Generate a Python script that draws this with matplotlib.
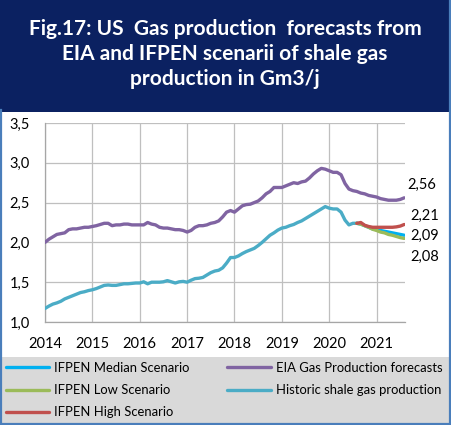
import matplotlib
matplotlib.use("Agg")
import matplotlib.pyplot as plt
from matplotlib.patches import Rectangle
from matplotlib.lines import Line2D
import numpy as np

# ---------------- data (monthly, Jan 2014 onwards) ----------------
start_year = 2014
eia = [2.00, 2.04, 2.07, 2.10, 2.11, 2.12, 2.16, 2.17, 2.17, 2.18, 2.19, 2.19,
       2.20, 2.21, 2.225, 2.24, 2.24, 2.21, 2.22, 2.22, 2.23, 2.23, 2.22, 2.22,
       2.22, 2.22, 2.25, 2.23, 2.22, 2.19, 2.18, 2.18, 2.17, 2.16, 2.16, 2.15,
       2.13, 2.15, 2.19, 2.21, 2.21, 2.22, 2.24, 2.25, 2.27, 2.32, 2.38, 2.40,
       2.38, 2.42, 2.46, 2.475, 2.48, 2.50, 2.52, 2.56, 2.61, 2.64, 2.69, 2.69,
       2.69, 2.71, 2.73, 2.75, 2.74, 2.76, 2.77, 2.81, 2.86, 2.90, 2.93, 2.92,
       2.90, 2.88, 2.88, 2.85, 2.74, 2.67, 2.65, 2.64, 2.62, 2.61, 2.59, 2.58,
       2.57, 2.55, 2.54, 2.53, 2.53, 2.53, 2.54, 2.56]
historic = [1.17, 1.20, 1.225, 1.24, 1.26, 1.29, 1.31, 1.33, 1.35, 1.37, 1.38, 1.395,
            1.405, 1.42, 1.44, 1.46, 1.465, 1.46, 1.46, 1.47, 1.48, 1.48, 1.485, 1.49,
            1.49, 1.505, 1.48, 1.50, 1.50, 1.50, 1.505, 1.52, 1.505, 1.49, 1.505, 1.51,
            1.50, 1.525, 1.545, 1.55, 1.56, 1.59, 1.62, 1.64, 1.65, 1.68, 1.74, 1.81,
            1.81, 1.83, 1.86, 1.885, 1.905, 1.925, 1.96, 2.00, 2.045, 2.09, 2.12, 2.155,
            2.18, 2.19, 2.21, 2.225, 2.25, 2.27, 2.30, 2.33, 2.36, 2.39, 2.42, 2.45,
            2.43, 2.42, 2.42, 2.38, 2.28, 2.22, 2.24, 2.24]
scen_start = 79  # month index where IFPEN scenarios begin
median = [2.24, 2.23, 2.21, 2.19, 2.17, 2.16, 2.15, 2.14, 2.13, 2.12, 2.11, 2.10, 2.09]
low    = [2.24, 2.23, 2.21, 2.19, 2.165, 2.15, 2.13, 2.12, 2.10, 2.09, 2.075, 2.06, 2.05]
high   = [2.24, 2.25, 2.215, 2.20, 2.19, 2.19, 2.19, 2.19, 2.19, 2.19, 2.195, 2.205, 2.225]
end_labels = {"eia": "2,56", "high": "2,21", "median": "2,09", "low": "2,08"}
yticks = [1.0, 1.5, 2.0, 2.5, 3.0, 3.5]
years = list(range(2014, 2022))
title = "Fig.17: US  Gas production  forecasts from\nEIA and IFPEN scenarii of shale gas\nproduction in Gm3/j"

def t_of(i0, n):
    return start_year + (np.arange(n) + i0) / 12.0

W, H = 452, 425
DPI = 100
FONT = ["Lato", "DejaVu Sans"]
plt.rcParams["font.family"] = FONT

fig = plt.figure(figsize=(W / DPI, H / DPI), dpi=DPI)
fig.patch.set_facecolor("white")

def fx(px): return px / W
def fy(py): return 1 - py / H

# title box
fig.patches.append(Rectangle((0, fy(112)), 1, 112 / H, transform=fig.transFigure,
                             facecolor="#0B2161", edgecolor="none", zorder=0))
# legend background
fig.patches.append(Rectangle((fx(2), fy(423)), fx(449) - fx(2), (423 - 357) / H,
                             transform=fig.transFigure, facecolor="#D9D9D9",
                             edgecolor="none", zorder=0))
# borders
bc = "#4A7EBB"
fig.add_artist(Line2D([fx(1), fx(1)], [fy(425), fy(110)], transform=fig.transFigure, color=bc, lw=1.6))
fig.add_artist(Line2D([fx(450.5), fx(450.5)], [fy(425), fy(0)], transform=fig.transFigure, color=bc, lw=1.6))
fig.add_artist(Line2D([0, 1], [fy(424), fy(424)], transform=fig.transFigure, color=bc, lw=1.6))

fig.text(fx(225), fy(54), title, ha="center", va="center", color="white",
         fontsize=15, fontweight="bold", linespacing=1.3)

ax = fig.add_axes([fx(45), fy(322), fx(405) - fx(45), (322 - 123) / H])
ax.set_facecolor("white")

lw = 2.4
te = t_of(0, len(eia))
th = t_of(0, len(historic))
ts = t_of(scen_start, len(median))
l_med, = ax.plot(ts, median, color="#00B0F0", lw=lw, solid_capstyle="round", label="IFPEN Median Scenario", zorder=3)
l_low, = ax.plot(ts, low, color="#9BBB59", lw=lw, solid_capstyle="round", label="IFPEN Low Scenario", zorder=4)
l_high, = ax.plot(ts, high, color="#C0504D", lw=lw, solid_capstyle="round", label="IFPEN High Scenario", zorder=5)
l_eia, = ax.plot(te, eia, color="#8064A2", lw=lw, solid_capstyle="round", label="EIA Gas Production forecasts", zorder=3)
l_his, = ax.plot(th, historic, color="#4BACC6", lw=lw, solid_capstyle="round", label="Historic shale gas production", zorder=3)

ax.set_xlim(2014, 2014 + 91.2 / 12)
ax.set_ylim(1.0, 3.5)
ax.set_yticks(yticks)
ax.set_yticklabels([f"{v:.1f}".replace(".", ",") for v in yticks])
ax.set_xticks(years)
ax.set_xticklabels([str(y) for y in years])
ax.tick_params(axis="both", length=0, labelsize=10.5, colors="black")
ax.tick_params(axis="y", pad=11)
ax.tick_params(axis="x", pad=11)
ax.grid(True, color="#BFBFBF", lw=0.9)
ax.set_axisbelow(True)
for s in ["top", "right"]:
    ax.spines[s].set_visible(False)
for s in ["left", "bottom"]:
    ax.spines[s].set_color("#A6A6A6")
    ax.spines[s].set_linewidth(0.9)

# end labels
lab_kw = dict(textcoords="offset pixels", fontsize=10.5, ha="center", va="center", annotation_clip=False)
ax.annotate(end_labels["eia"], (te[-1], eia[-1]), xytext=(18, 13), **lab_kw)
ax.annotate(end_labels["high"], (ts[-1], high[-1]), xytext=(20, 9), **lab_kw)
ax.annotate(end_labels["median"], (ts[-1], median[-1]), xytext=(20, -1), **lab_kw)
ax.annotate(end_labels["low"], (ts[-1], low[-1]), xytext=(20, -18), **lab_kw)

handles = [l_med, l_low, l_high, l_eia, l_his]
leg = fig.legend(handles=handles, labels=[h.get_label() for h in handles], ncol=2,
                 loc="upper left", bbox_to_anchor=(fx(2), fy(358)), frameon=False,
                 fontsize=9.4, handlelength=3.3, handletextpad=0.4, columnspacing=2.9,
                 labelspacing=0.78, borderpad=0.3, borderaxespad=0)

fig.savefig("out.png", dpi=DPI)
